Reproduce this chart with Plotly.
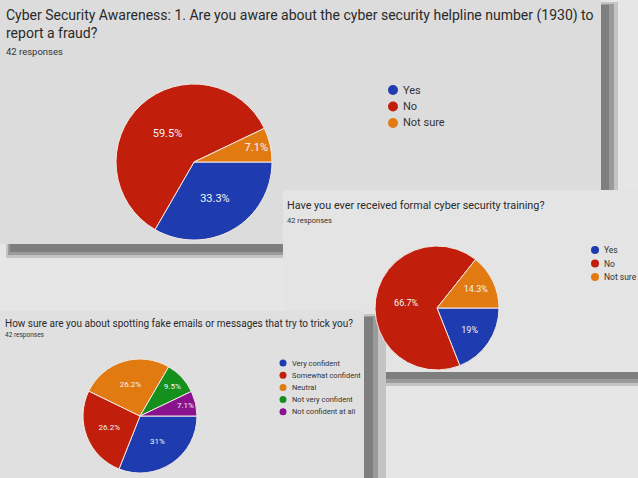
import plotly.graph_objects as go

W, H = 638, 478

# ---- data ----
q1_title = "Cyber Security Awareness: 1. Are you aware about the cyber security helpline number (1930) to<br>report a fraud?"
q1_labels = ["Yes", "No", "Not sure"]
q1_values = [33.3, 59.5, 7.1]
q1_text = ["33.3%", "59.5%", "7.1%"]

q2_title = "Have you ever received formal cyber security training?"
q2_labels = ["Yes", "No", "Not sure"]
q2_values = [19.0, 66.7, 14.3]
q2_text = ["19%", "66.7%", "14.3%"]

q3_title = "How sure are you about spotting fake emails or messages that try to trick you?"
q3_labels = ["Very confident", "Somewhat confident", "Neutral", "Not very confident", "Not confident at all"]
q3_values = [31.0, 26.2, 26.2, 9.5, 7.1]
q3_text = ["31%", "26.2%", "26.2%", "9.5%", "7.1%"]

responses = "42 responses"

colors = ["#1e3caf", "#c11f0c", "#e27a12", "#16901c", "#8a128e"]


def px(x):
    return x / W


def py(y):
    return 1 - y / H


def rect(x0, y0, x1, y1, color):
    return dict(type="rect", xref="paper", yref="paper", x0=px(x0), x1=px(x1),
                y0=py(y1), y1=py(y0), fillcolor=color, line=dict(width=0), layer="below")


shapes = []
# panel 1 shadow + panel
shapes += [rect(6, 2, 618, 258, "#c4c4c4"), rect(8, 4, 614, 255, "#9a9a9a"),
           rect(10, 5, 609, 252, "#7e7e7e"), rect(0, 0, 601, 244, "#dcdcdc")]
# panel 2 shadow + panel
shapes += [rect(288, 194, 650, 386, "#c4c4c4"), rect(290, 196, 650, 383, "#9a9a9a"),
           rect(292, 197, 650, 379, "#7e7e7e"), rect(283, 190, 638, 372, "#e4e4e4")]
# panel 3 shadow + panel
shapes += [rect(4, 314, 386, 490, "#c4c4c4"), rect(6, 316, 378, 490, "#9a9a9a"),
           rect(8, 317, 373, 490, "#7e7e7e"), rect(0, 311, 364, 478, "#e0e0e0")]


def pie(labels, values, text, cx, cy, r, fs):
    return go.Pie(labels=labels, values=values, text=text, textinfo="text",
                  textposition="inside", insidetextorientation="horizontal",
                  sort=False, direction="clockwise", rotation=90,
                  marker=dict(colors=colors[:len(labels)], line=dict(color="#f3e9e4", width=1)),
                  textfont=dict(color="#f4f4f4", size=fs, family="Roboto"),
                  domain=dict(x=[px(cx - r), px(cx + r)], y=[py(cy + r), py(cy - r)]),
                  showlegend=False, hoverinfo="label+percent")


fig = go.Figure()
fig.add_trace(pie(q1_labels, q1_values, q1_text, 194, 162, 78, 11))
fig.add_trace(pie(q2_labels, q2_values, q2_text, 437, 308, 62, 9))
fig.add_trace(pie(q3_labels, q3_values, q3_text, 140, 416, 57, 8))

ann = []


def text(x, y, s, size, color="#2a2a2a", xanchor="left"):
    ann.append(dict(xref="paper", yref="paper", x=px(x), y=py(y), text=s, showarrow=False,
                    xanchor=xanchor, yanchor="middle", align="left",
                    font=dict(family="Roboto", size=size, color=color)))


# titles
text(4, 24, q1_title, 14)
text(4, 52, responses, 9.5, "#333333")
text(285, 205, q2_title, 10.8)
text(285, 220, responses, 7.5, "#333333")
text(3, 323, q3_title, 10)
text(3, 335, responses, 6.5, "#333333")


def legend(labels, x, y0, dy, size, dot):
    for i, lab in enumerate(labels):
        y = y0 + i * dy
        shapes.append(dict(type="circle", xref="paper", yref="paper",
                           x0=px(x - dot / 2), x1=px(x + dot / 2),
                           y0=py(y + dot / 2), y1=py(y - dot / 2),
                           fillcolor=colors[i], line=dict(width=0), layer="below"))
        text(x + dot / 2 + 3, y, lab, size, "#333333")


legend(q1_labels, 393, 90, 16.5, 11, 10)
legend(q2_labels, 595, 250, 13.5, 8.5, 8)
legend(q3_labels, 283, 363, 12.2, 7.5, 7)

fig.update_layout(width=W, height=H, margin=dict(l=0, r=0, t=0, b=0),
                  paper_bgcolor="#e6e6e6", plot_bgcolor="#e6e6e6",
                  shapes=shapes, annotations=ann, showlegend=False)

fig.write_html("out.html")
